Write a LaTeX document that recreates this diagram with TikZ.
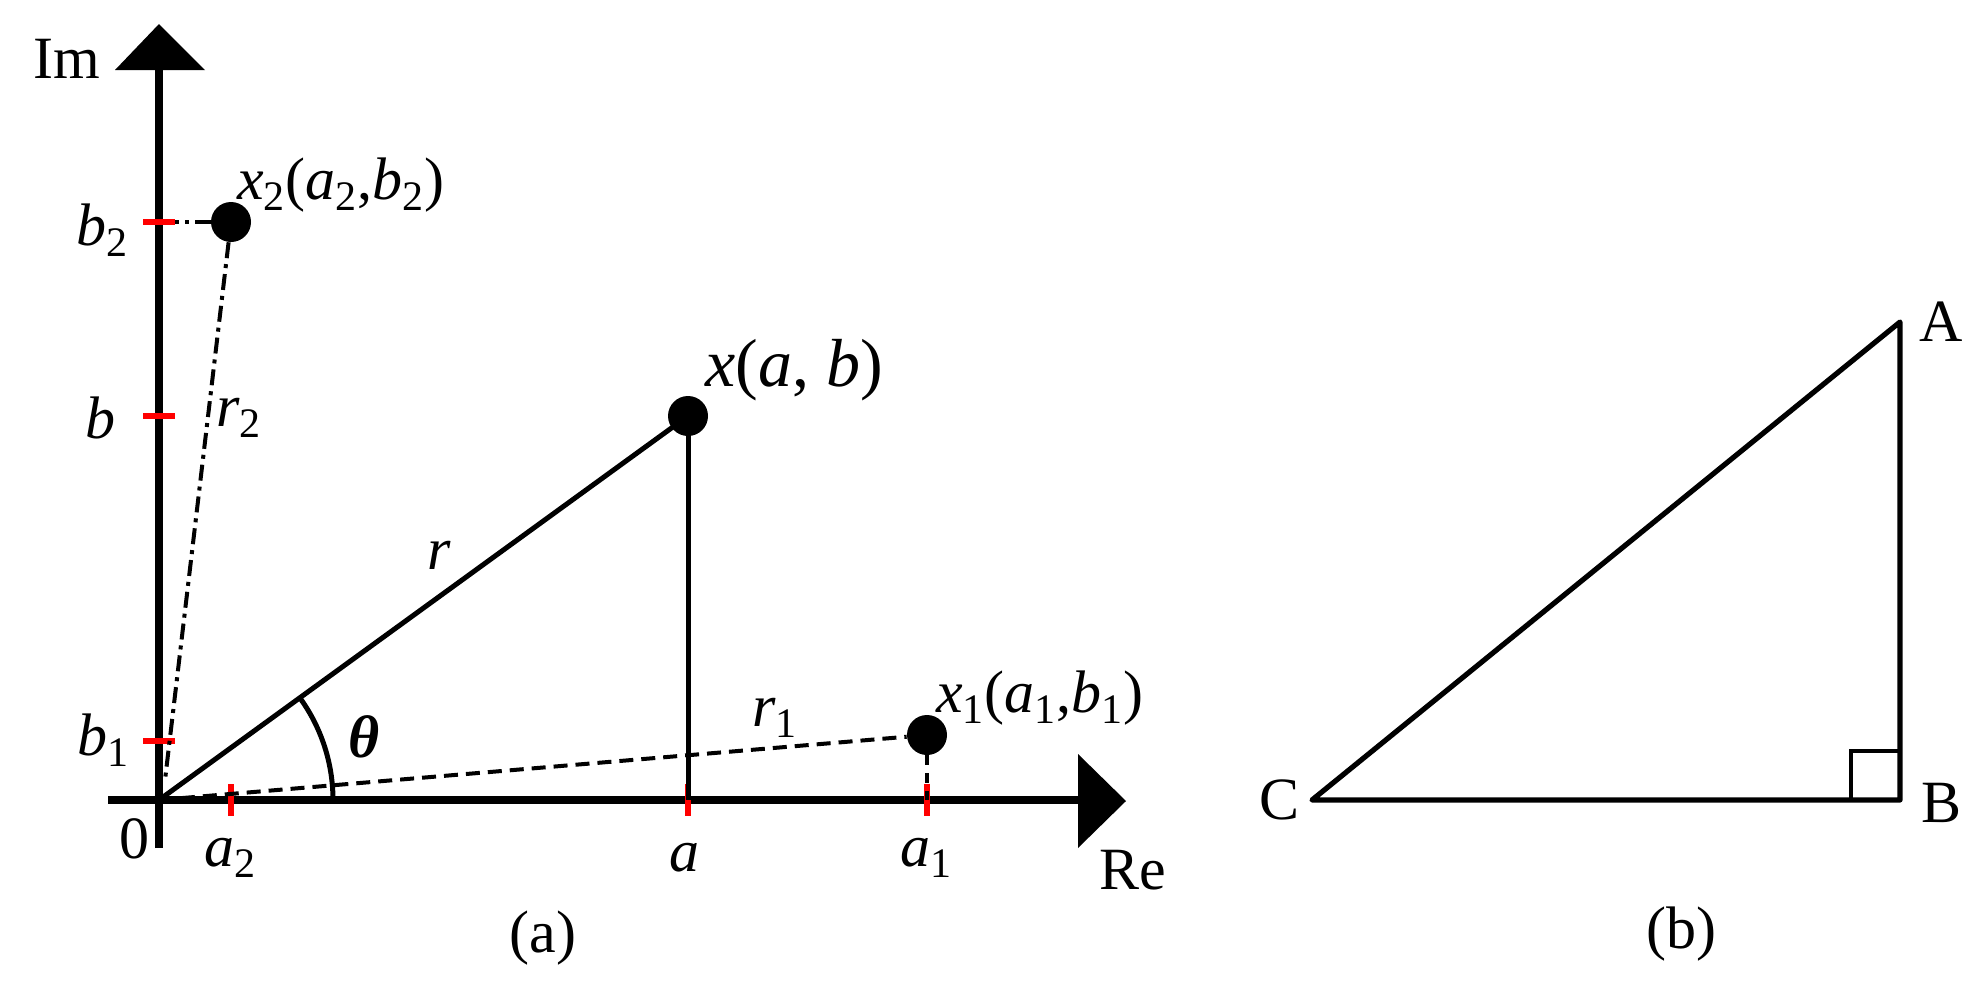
\documentclass[tikz,border=0pt]{standalone}
\usepackage{fontspec}
\setmainfont{Liberation Serif}
\newcommand{\vi}[1]{\textit{#1}}
\newcommand{\vs}[2]{\textit{#1}\textsubscript{#2}}
\begin{document}
\begin{tikzpicture}[x=0.5pt,y=-0.5pt,
  lbl/.style={font=\fontsize{30}{36}\selectfont, inner sep=0pt},
  axis/.style={line width=4pt},
  tick/.style={red, line width=3pt},
  dot/.style={circle, fill=black, minimum size=20pt, inner sep=0pt},
  tri/.style={line width=2.6pt, line cap=round, line join=round}]
\useasboundingbox (0,0) rectangle (1987,996);
% axes
\coordinate (O) at (159,800);
\coordinate (xs) at (108,800);
\coordinate (xe) at (1085,800);
\coordinate (ys) at (159,848);
\coordinate (ye) at (159,65);
\draw[axis] (xs) -- (xe);
\draw[axis] (ys) -- (ye);
\fill (1078,754) -- (1126,801) -- (1078,848) -- cycle;
\fill (115,70) -- (159,24) -- (205,70) -- cycle;
% points
\node[dot] (P) at (688,416) {};
\node[dot] (P1) at (927,735) {};
\node[dot] (P2) at (231,222) {};
% ticks
\foreach \y/\n in {222/tb2,416/tb,741/tb1} {\draw[tick] (143,\y) -- (175,\y); \coordinate (\n) at (159,\y);}
\foreach \x/\n in {231/ta2,688/ta,927/ta1} {\draw[tick] (\x,784) -- (\x,816); \coordinate (\n) at (\x,800);}
% lines
\draw[line width=2.5pt] (O) -- (P.center);
\draw[line width=2.5pt] (P.center) -- (ta);
\draw[line width=2pt, dash pattern=on 7pt off 4pt] (O) -- (P1);
\draw[line width=2pt, dash pattern=on 5pt off 4pt] (P1) -- (ta1);
\draw[line width=2pt, dash pattern=on 8pt off 3pt on 2pt off 3pt] (P2) -- (165,780);
\draw[line width=2pt, dash pattern=on 8pt off 3pt on 2pt off 3pt] (P2) -- (175,222);
\draw[line width=2.5pt] ([shift={(0:174)}]O) arc[start angle=0, end angle=-36, radius=174];
% labels
\node[lbl] (Im) at (67,59) {Im};
\node[lbl] (Re) at (1133,870) {Re};
\node[lbl] (zero) at (134,839) {0};
\node[lbl] (lb2) at (102,230) {\vs{b}{2}};
\node[lbl] (lb) at (100,418) {\vi{b}};
\node[lbl] (lb1) at (103,740) {\vs{b}{1}};
\node[lbl] (la2) at (230,858) {\vs{a}{2}};
\node[lbl] (la) at (684,858) {\vi{a}};
\node[lbl] (la1) at (926,858) {\vs{a}{1}};
\node[lbl] (lr) at (439,555) {\vi{r}};
\node[lbl] (lth) at (364,737) {\textbf{\textit{θ}}};
\node[lbl] (lr2) at (239,418) {\vs{r}{2}};
\node[lbl] (lr1) at (775,718) {\vs{r}{1}};
\node[lbl, font=\fontsize{34}{40}\selectfont] (lP) at (794,370) {\vi{x}(\vi{a}, \vi{b})};
\node[lbl] (lP2) at (341,185) {\vs{x}{2}(\vs{a}{2},\vs{b}{2})};
\node[lbl] (lP1) at (1040,698) {\vs{x}{1}(\vs{a}{1},\vs{b}{1})};
\node[lbl] (capa) at (543,938) {(a)};
% triangle
\coordinate (C) at (1312,800);
\coordinate (B) at (1900,800);
\coordinate (A) at (1900,322);
\draw[tri] (C) -- (B) -- (A) -- cycle;
\draw[line width=2pt] (1851,800) -- (1851,751) -- (1900,751);
\node[lbl] (lC) at (1279,800) {C};
\node[lbl] (lB) at (1941,803) {B};
\node[lbl] (lA) at (1941,322) {A};
\node[lbl] (capb) at (1681,934) {(b)};
\end{tikzpicture}
\end{document}
